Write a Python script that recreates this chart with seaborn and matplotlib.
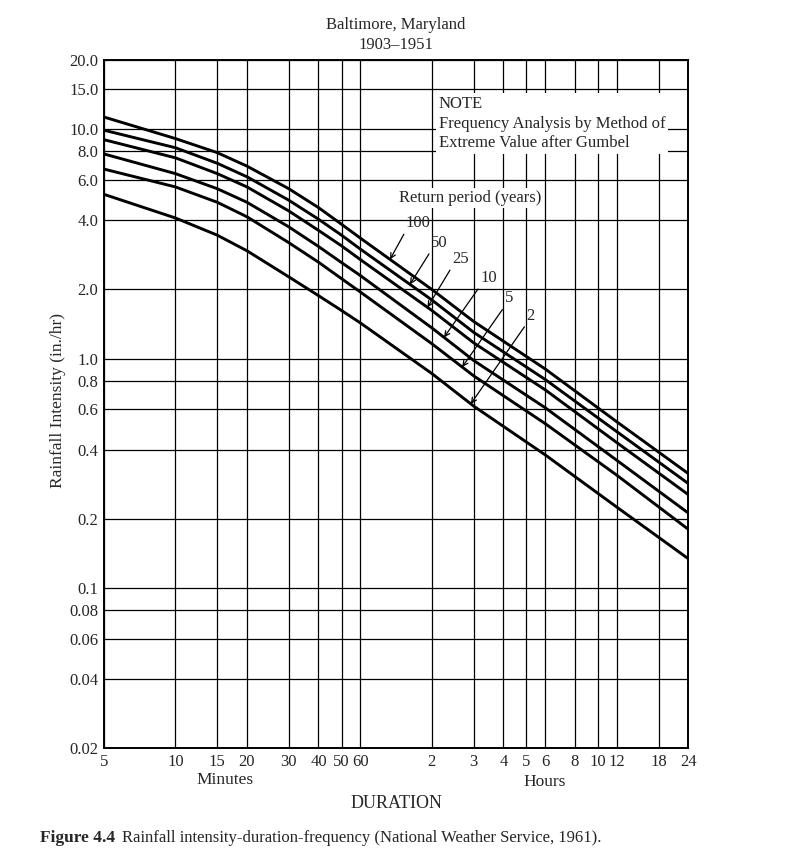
import numpy as np
import pandas as pd
import matplotlib
matplotlib.use("Agg")
import matplotlib.pyplot as plt
import seaborn as sns
from matplotlib.ticker import NullLocator

# durations in minutes, intensities in in./hr
durations = [5, 10, 15, 20, 30, 40, 50, 60, 120, 180, 360, 720, 1440]
i100 = [11.3, 9.1, 7.9, 6.9, 5.5, 4.55, 3.85, 3.35, 2.0, 1.45, 0.9, 0.53, 0.315]
i50 = [9.9, 8.3, 7.1, 6.2, 4.9, 4.05, 3.45, 3.0, 1.8, 1.3, 0.81, 0.48, 0.285]
i25 = [9.0, 7.5, 6.4, 5.6, 4.4, 3.62, 3.1, 2.7, 1.62, 1.17, 0.73, 0.43, 0.255]
i10 = [7.8, 6.4, 5.5, 4.8, 3.75, 3.08, 2.62, 2.3, 1.36, 0.98, 0.61, 0.36, 0.212]
i5 = [6.7, 5.6, 4.8, 4.15, 3.2, 2.63, 2.23, 1.95, 1.16, 0.84, 0.52, 0.31, 0.18]
i2 = [5.2, 4.1, 3.45, 2.95, 2.27, 1.88, 1.62, 1.43, 0.86, 0.62, 0.38, 0.225, 0.134]

periods = ["100", "50", "25", "10", "5", "2"]
series = [i100, i50, i25, i10, i5, i2]

x_ticks = [5, 10, 15, 20, 30, 40, 50, 60, 120, 180, 240, 300, 360, 480, 600, 720, 1080, 1440]
x_labels = ["5", "10", "15", "20", "30", "40", "50", "60",
            "2", "3", "4", "5", "6", "8", "10", "12", "18", "24"]
y_ticks = [0.02, 0.04, 0.06, 0.08, 0.1, 0.2, 0.4, 0.6, 0.8, 1.0, 2.0, 4.0, 6.0, 8.0, 10.0, 15.0, 20.0]
y_labels = ["0.02", "0.04", "0.06", "0.08", "0.1", "0.2", "0.4", "0.6", "0.8", "1.0",
            "2.0", "4.0", "6.0", "8.0", "10.0", "15.0", "20.0"]

# label placement for the return period callouts: (text x, text y, arrow x)
label_pos = [(105, 3.9, 80), (129, 3.2, 97), (158, 2.72, 115),
             (208, 2.25, 135), (253, 1.83, 161), (313, 1.54, 175)]

df = pd.concat(
    [pd.DataFrame({"duration": durations, "intensity": vals, "period": p})
     for p, vals in zip(periods, series)],
    ignore_index=True,
)

sns.set_style("white")
plt.rcParams["font.family"] = ["Liberation Serif", "DejaVu Serif"]
plt.rcParams["font.size"] = 12

fig = plt.figure(figsize=(7.93, 8.59), dpi=100)
ax = fig.add_axes([0.131, 0.129, 0.737, 0.801])

sns.lineplot(data=df, x="duration", y="intensity", hue="period",
             palette=["black"] * len(periods), legend=False,
             estimator=None, sort=False, lw=2.1, ax=ax)

ax.set_xscale("log")
ax.set_yscale("log")
ax.set_xlim(5, 1440)
ax.set_ylim(0.02, 20)
ax.set_xticks(x_ticks)
ax.set_xticklabels(x_labels)
ax.set_yticks(y_ticks)
ax.set_yticklabels(y_labels)
ax.xaxis.set_minor_locator(NullLocator())
ax.yaxis.set_minor_locator(NullLocator())
ax.tick_params(length=0, pad=4, labelsize=12)
ax.grid(True, color="black", lw=0.9)
for s in ax.spines.values():
    s.set_color("black")
    s.set_linewidth(1.4)

ax.set_xlabel("")
ax.set_ylabel("Rainfall Intensity (in./hr)", fontsize=12.5)
ax.yaxis.set_label_coords(-0.064, 0.506)
ax.set_title("Baltimore, Maryland\n1903\u20131951", fontsize=12, pad=8, linespacing=1.35)

ax.text(0.573, 0.948, "NOTE\nFrequency Analysis by Method of\nExtreme Value after Gumbel",
        transform=ax.transAxes, ha="left", va="top", fontsize=12, linespacing=1.3,
        bbox=dict(fc="white", ec="none", pad=2))
ax.text(174, 5.0, "Return period (years)", ha="center", va="center", fontsize=12,
        bbox=dict(fc="white", ec="none", pad=1.5))

for p, vals, (tx, ty, ax_x) in zip(periods, series, label_pos):
    tip_y = 10 ** np.interp(np.log10(ax_x), np.log10(durations), np.log10(vals))
    ax.annotate(p, xy=(ax_x, tip_y), xytext=(tx, ty), textcoords="data",
                ha="center", va="center", fontsize=12,
                arrowprops=dict(arrowstyle="->", lw=0.9, color="black",
                                relpos=(0.0, 0.0), shrinkA=0, shrinkB=0,
                                mutation_scale=9))

fig.text(225 / 793, 1 - 780 / 859, "Minutes", ha="center", va="center", fontsize=12.5)
fig.text(545 / 793, 1 - 782 / 859, "Hours", ha="center", va="center", fontsize=12.5)
fig.text(0.4994, 1 - 803 / 859, "DURATION", ha="center", va="center", fontsize=13)
fig.text(40 / 793, 1 - 838 / 859, "Figure 4.4", ha="left", va="center",
         fontsize=12.5, fontweight="bold")
fig.text(122 / 793, 1 - 838 / 859,
         "Rainfall intensity-duration-frequency (National Weather Service, 1961).",
         ha="left", va="center", fontsize=12)

fig.savefig("out.png", dpi=100, facecolor="white")
